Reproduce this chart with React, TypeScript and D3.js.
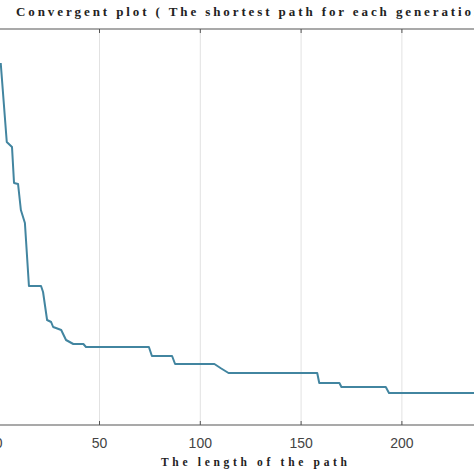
import React from "react";
import * as d3 from "d3";

const generations = [1, 4, 6.6, 7.6, 9.6, 11, 13, 15, 21, 22, 24, 26, 27, 28.4, 31, 33.4, 37, 42, 43.3, 74.5, 76, 86, 87.5, 107, 110, 114, 158, 159, 169, 170, 192, 193.6, 250];
const pathLengths = [362, 283, 278, 242, 241, 215, 202, 139, 139, 133, 105, 103, 98, 97, 95, 85, 81, 81, 78, 78, 69, 69, 61, 61, 57, 52, 52, 42, 42, 38, 38, 32, 32];
const xTicks = [0, 50, 100, 150, 200];
const titleText = "Convergent plot ( The shortest path for each generation )";
const xLabelText = "The length of the path";

export default function App() {
  const W = 474, H = 474;
  const x = d3.scaleLinear().domain([0, 250]).range([-1.3, 502.7]);
  const y = d3.scaleLinear().domain([0, 396]).range([425, 29]);
  const pts = generations.map((g, i) => [g, pathLengths[i]] as [number, number]);
  const line = d3.line<[number, number]>().x(d => x(d[0])).y(d => y(d[1]));
  const top = 29, bottom = 425;
  return (
    <svg width={W} height={H} style={{ position: "absolute", left: 0, top: 0, background: "#fff" }}>
      <rect x={0} y={0} width={W} height={H} fill="#fff" />
      {xTicks.filter(t => t > 0).map(t => (
        <line key={"g" + t} x1={x(t)} x2={x(t)} y1={top} y2={bottom} stroke="#e2e2e2" strokeWidth={1} />
      ))}
      <path d={line(pts) || ""} fill="none" stroke="#4285a0" strokeWidth={2} strokeLinejoin="round" />
      <line x1={0} x2={W} y1={top} y2={top} stroke="#555" strokeWidth={1.2} />
      <line x1={0} x2={W} y1={bottom} y2={bottom} stroke="#555" strokeWidth={1.2} />
      {xTicks.map(t => (
        <g key={"t" + t}>
          <line x1={x(t)} x2={x(t)} y1={top} y2={top + 4} stroke="#555" strokeWidth={1} />
          <line x1={x(t)} x2={x(t)} y1={bottom} y2={bottom - 4} stroke="#555" strokeWidth={1} />
          <text x={x(t)} y={448} textAnchor="middle" fontFamily="Liberation Sans, Arial, sans-serif" fontSize={14} fill="#444">{t}</text>
        </g>
      ))}
      <text x={16} y={16} fontFamily="Liberation Serif, Times New Roman, serif" fontWeight="bold" fontSize={13} fill="#222" letterSpacing={2.9}>{titleText}</text>
      <text x={161} y={466} fontFamily="Liberation Serif, Times New Roman, serif" fontWeight="bold" fontSize={11.5} fill="#222" textLength={186} lengthAdjust="spacing">{xLabelText}</text>
    </svg>
  );
}
